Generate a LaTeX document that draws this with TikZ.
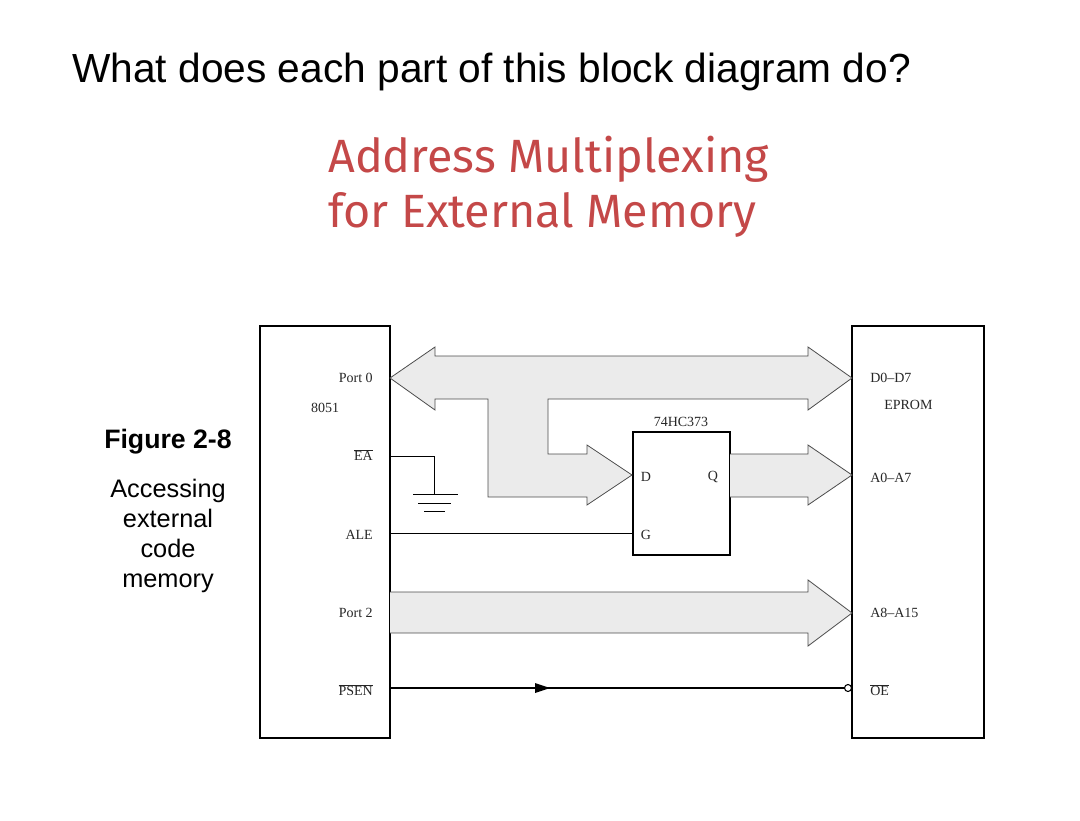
\documentclass[tikz,border=0pt]{standalone}
\usepackage{fontspec}
\setmainfont{Liberation Serif}
\newfontfamily\sans{Liberation Sans}
\newfontfamily\redf{Fira Sans}
\definecolor{ttl}{RGB}{196,72,72}
\begin{document}
\begin{tikzpicture}[x=0.75pt,y=-0.75pt,
  box/.style={draw,line width=0.8pt},
  bus/.style={draw=black!70,fill=black!8,line width=0.6pt},
  lbl/.style={font=\fontsize{10.5}{12}\selectfont,inner sep=0pt,text=black!85},
  wire/.style={draw,line width=0.6pt}]
\useasboundingbox (0,0) rectangle (1080,820);
\node[anchor=west,font=\sans\fontsize{30.5}{34}\selectfont,inner sep=0pt] (q) at (72,72) {What does each part of this block diagram do?};
\node[anchor=north west,align=left,text=ttl,font=\redf\fontsize{35}{41}\selectfont,inner sep=0pt] (t) at (328,136) {Address Multiplexing\\for External Memory};
\node[font=\sans\bfseries\fontsize{20}{24}\selectfont] (fig) at (168,442) {Figure 2-8};
\node[font=\sans\fontsize{19}{22.5}\selectfont,align=center] (acc) at (168,536) {Accessing\\external\\code\\memory};
% boxes
\draw[box] (260,326) rectangle (390,738);
\draw[box] (852,326) rectangle (984,738);
\draw[box] (633,432) rectangle (730,555);
% port0 bidirectional bus with branch
\path[bus] (390,378) -- (435,347) -- (435,356) -- (808,356) -- (808,347) -- (852,378) -- (808,410) -- (808,399)
  -- (548,399) -- (548,454) -- (587,454) -- (587,445) -- (632,475) -- (587,505) -- (587,497) -- (488,497) -- (488,399)
  -- (435,399) -- (435,410) -- cycle;
% Q bus
\path[bus] (730,454) -- (808,454) -- (808,445) -- (852,475) -- (808,505) -- (808,497) -- (730,497);
% port2 bus
\path[bus] (390,592) -- (808,592) -- (808,580) -- (852,613) -- (808,646) -- (808,633) -- (390,633);
% EA ground
\draw[wire] (390,456) -- (434,456) -- (434,494);
\draw[wire] (413,494) -- (458,494);
\draw[wire] (418,503) -- (451,503);
\draw[wire] (424,511) -- (445,511);
% ALE
\draw[wire] (390,533) -- (633,533);
% PSEN
\draw[line width=1.4pt] (390,688) -- (845,688);
\fill (535,683) -- (550,688) -- (535,693) -- cycle;
\draw[line width=0.8pt,fill=white] (848,688) circle (3.5);
% labels
\node[lbl,anchor=east] (p0) at (373,378) {Port 0};
\node[lbl] (c8051) at (325,408) {8051};
\node[lbl,anchor=east] (ea) at (373,455) {$\overline{\mbox{EA}}$};
\node[lbl,anchor=east] (ale) at (373,535) {ALE};
\node[lbl,anchor=east] (p2) at (373,613) {Port 2};
\node[lbl,anchor=east] (psen) at (373,690) {$\overline{\mbox{PSEN}}$};
\node[lbl] (hc) at (681,422) {74HC373};
\node[lbl] (d) at (646,477) {D};
\node[lbl] (qq) at (713,477) {Q};
\node[lbl] (g) at (646,535) {G};
\node[lbl,anchor=west] (d07) at (870,378) {D0--D7};
\node[lbl,anchor=west] (ep) at (884,405) {EPROM};
\node[lbl,anchor=west] (a07) at (870,478) {A0--A7};
\node[lbl,anchor=west] (a815) at (870,613) {A8--A15};
\node[lbl,anchor=west] (oe) at (870,690) {$\overline{\mbox{OE}}$};
\end{tikzpicture}
\end{document}
